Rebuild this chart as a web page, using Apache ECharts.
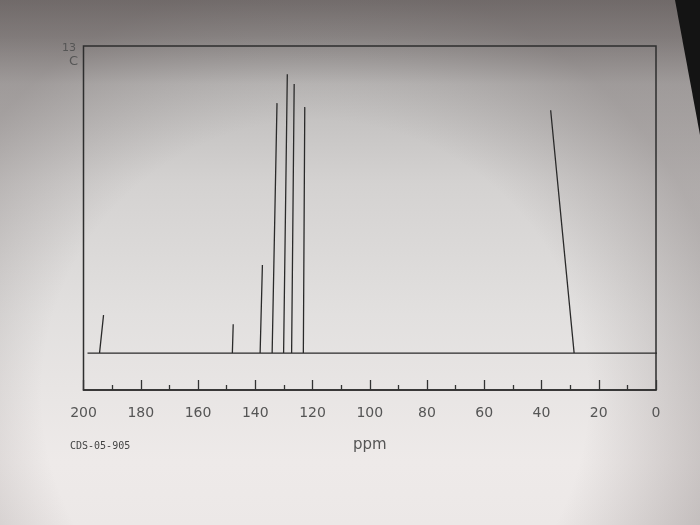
<!DOCTYPE html>
<html>
<head>
<meta charset="utf-8">
<script src="https://cdn.jsdelivr.net/npm/echarts@6/dist/echarts.min.js"></script>
<style>html,body{margin:0;padding:0;background:#ddd;}#c{width:700px;height:525px;}</style>
</head>
<body>
<div id="c"></div>
<script>
// ppm where each peak meets the baseline
var peakBasePpm = [194.4, 148.0, 138.3, 134.1, 130.1, 127.3, 123.2, 28.6];
// ppm at the top of each (slightly slanted) peak stroke
var peakTopPpm  = [193.0, 147.7, 137.5, 132.4, 128.8, 126.4, 122.7, 36.8];
// relative intensity (baseline = 0)
var peakHeight  = [12.4, 9.4, 28.7, 81.4, 90.8, 87.6, 80.1, 79.1];
var baselineStart = 198.6;
var baselineEnd = -2;
var xTicks = [200, 180, 160, 140, 120, 100, 80, 60, 40, 20, 0];
var axisName = 'ppm';
var nucleusSup = '13';
var nucleusSym = 'C';
var sampleId = 'CDS-05-905';

var spectrum = [[baselineStart, 0]];
for (var i = 0; i < peakBasePpm.length; i++) {
  spectrum.push([peakBasePpm[i], 0]);
  spectrum.push([peakTopPpm[i], peakHeight[i]]);
  spectrum.push([peakBasePpm[i], 0]);
}
spectrum.push([baselineEnd, 0]);

var chart = echarts.init(document.getElementById('c'));
chart.setOption({
  animation: false,
  graphic: [
    { type: 'rect', z: -100, silent: true, shape: { x: 0, y: 0, width: 700, height: 525 },
      style: { fill: new echarts.graphic.LinearGradient(0, 0, 0, 1, [
        { offset: 0, color: '#7a7574' },
        { offset: 0.07, color: '#918d8c' },
        { offset: 0.16, color: '#bdbbba' },
        { offset: 0.35, color: '#d4d2d1' },
        { offset: 0.6, color: '#e2e0df' },
        { offset: 0.88, color: '#eeeae9' },
        { offset: 1, color: '#ece8e7' }
      ]) } },
    { type: 'rect', z: -99, silent: true, shape: { x: 0, y: 0, width: 700, height: 525 },
      style: { fill: new echarts.graphic.RadialGradient(0.45, 0.75, 0.8, [
        { offset: 0, color: 'rgba(90,80,80,0)' },
        { offset: 0.65, color: 'rgba(90,80,80,0)' },
        { offset: 1, color: 'rgba(90,80,80,0.3)' }
      ]) } },
    { type: 'polygon', z: -98, silent: true, shape: { points: [[675, 0], [700, 0], [700, 135]] },
      style: { fill: '#141414' } },
    { type: 'text', left: 62, top: 43, style: { text: nucleusSup, font: '11px "DejaVu Sans"', fill: '#555' } },
    { type: 'text', left: 69, top: 55, style: { text: nucleusSym, font: '13px "DejaVu Sans"', fill: '#555' } },
    { type: 'text', left: 70, top: 441, style: { text: sampleId, font: '10px "DejaVu Sans Mono"', fill: '#444' } }
  ],
  grid: { left: 83.5, right: 44, top: 46, bottom: 135, show: true, borderColor: '#2e2e2e', borderWidth: 1.5, backgroundColor: 'transparent' },
  xAxis: {
    type: 'value', min: 0, max: 200, interval: 20, inverse: true,
    axisLine: { show: true, onZero: false, lineStyle: { color: '#2e2e2e', width: 1.5 } },
    axisTick: { show: true, inside: true, length: 10, lineStyle: { color: '#333', width: 1.3 } },
    minorTick: { show: true, splitNumber: 2, length: 5, lineStyle: { color: '#333', width: 1.3 } },
    splitLine: { show: false },
    axisLabel: { color: '#555', fontSize: 14, margin: 16, fontFamily: '"DejaVu Sans"' },
    name: axisName, nameLocation: 'middle', nameGap: 48,
    nameTextStyle: { color: '#555', fontSize: 15, fontFamily: '"DejaVu Sans"' }
  },
  yAxis: { type: 'value', min: -12, max: 100, show: false },
  series: [{
    type: 'line', data: spectrum, showSymbol: false, symbol: 'none',
    lineStyle: { color: '#2a2a2a', width: 1.3 }
  }]
});
</script>
</body>
</html>
